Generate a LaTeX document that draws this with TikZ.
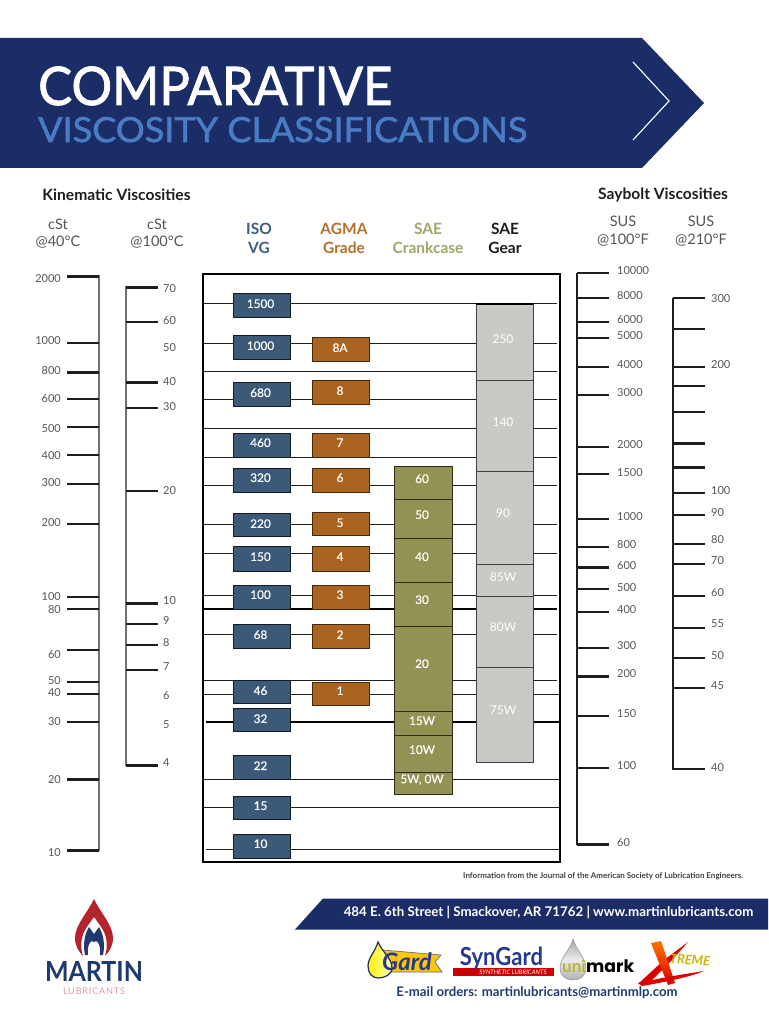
\documentclass[tikz,border=0pt]{standalone}
\usepackage{fontspec}
\setmainfont{Lato}
\newfontfamily\popfont{Poppins}
\usetikzlibrary{calc}
\definecolor{navy}{HTML}{1B2D66}
\definecolor{skyb}{HTML}{4A7CC4}
\definecolor{isoc}{HTML}{3C5A78}
\definecolor{agmac}{HTML}{AB6420}
\definecolor{crankc}{HTML}{919254}
\definecolor{gearc}{HTML}{C9CAC6}
\definecolor{inkc}{HTML}{1E1E1E}
\definecolor{labc}{HTML}{555555}
\definecolor{cranktxt}{HTML}{A3A56D}
\definecolor{agmatxt}{HTML}{B5702A}
\definecolor{isotxt}{HTML}{3F5F80}
\definecolor{brandblue}{HTML}{1F3A70}
\definecolor{logored}{HTML}{B5242C}
\definecolor{synblue}{HTML}{26398F}
\definecolor{tremec}{HTML}{C8B800}
\newcommand{\fs}[1]{\fontsize{#1}{#1}\selectfont}
\newcommand{\semib}[1][0.6]{\addfontfeature{FakeBold=#1}}
\tikzset{
  axisline/.style={draw=black!55,line width=1.2pt},
  darkaxis/.style={draw=inkc,line width=1.3pt},
  thintick/.style={draw=inkc,line width=1.3pt},
  thicktick/.style={draw=inkc,line width=3pt},
  scalelab/.style={inner sep=0pt,yshift=-0.7pt,text=labc,font=\fs{11}},
  headlab/.style={inner sep=0pt,text=labc,font=\fs{14.5}},
  coltitle/.style={inner sep=0pt,font=\bfseries\fs{15.5}},
  grouptitle/.style={inner sep=0pt,text=inkc,font=\bfseries\fs{15.6}},
  grid/.style={draw=inkc,line width=.85pt},
  gridthick/.style={draw=black,line width=2pt},
  isobox/.style={draw=black!70!isoc,fill=isoc,line width=.9pt},
  agmabox/.style={draw=black!60!agmac,fill=agmac,line width=.9pt},
  crankbox/.style={draw=black!70!crankc,fill=crankc,line width=1pt},
  gearbox/.style={draw=black!75,fill=gearc,line width=.9pt},
  celltxt/.style={inner sep=0pt,yshift=-0.7pt,text=white,font=\fs{11.8}\semib[0.35]},
  geartxt/.style={inner sep=0pt,yshift=-0.5pt,text=white,font=\fs{12}},
}
\begin{document}
\begin{tikzpicture}[x=1pt,y=-1pt]
\useasboundingbox (0,0) rectangle (768,1024);
\fill[white] (0,0) rectangle (768,1024);
% header
\fill[navy] (0,38) -- (642,38) -- (704,103) -- (642,168) -- (0,168) -- cycle;
\draw[white,line width=1.1pt] (633,62) -- (669,101) -- (633,140);
\node[anchor=base west,inner sep=0pt,text=white] (title1) at (38,105) {\resizebox{354pt}{38.5pt}{\semib[1.6]COMPARATIVE}};
\node[anchor=base west,inner sep=0pt,text=skyb] (title2) at (38,142) {\resizebox{489pt}{25pt}{\semib[1.6]VISCOSITY CLASSIFICATIONS}};
% group and column titles
\node[grouptitle] (gkin) at (116.5,195) {Kinematic Viscosities};
\node[grouptitle] (gsay) at (663,195) {Saybolt Viscosities};
\node[headlab] (h1a) at (58,224) {cSt};
\node[headlab] (h1b) at (58,242) {@40°C};
\node[headlab] (h2a) at (157,224) {cSt};
\node[headlab] (h2b) at (157,242) {@100°C};
\node[headlab] (h5a) at (623,221) {SUS};
\node[headlab] (h5b) at (623,240) {@100°F};
\node[headlab] (h6a) at (701,221) {SUS};
\node[headlab] (h6b) at (701,240) {@210°F};
\node[coltitle,text=isotxt] (c1a) at (259,229) {ISO};
\node[coltitle,text=isotxt] (c1b) at (259,248) {VG};
\node[coltitle,text=agmatxt] (c2a) at (344,229) {AGMA};
\node[coltitle,text=agmatxt] (c2b) at (344,248) {Grade};
\node[coltitle,text=cranktxt] (c3a) at (428,229) {SAE};
\node[coltitle,text=cranktxt] (c3b) at (428,248) {Crankcase};
\node[coltitle,text=inkc] (c4a) at (505,229) {SAE};
\node[coltitle,text=inkc] (c4b) at (505,248) {Gear};
% cSt 40
\draw[axisline] (99,275) -- (99,851);
\foreach \y in {343,399,427,455,484,524,597,609,650,682,694,722} \draw[thintick] (67,\y) -- (99,\y);
\foreach \y in {276,372,779,850} \draw[thicktick] (67,\y) -- (99,\y);
\foreach \y/\t [count=\i] in {278/2000,340/1000,370/800,398/600,428/500,455/400,482/300,522/200,596/100,609/80,654/60,680/50,692/40,721/30,779/20,852/10}
  \node[scalelab,anchor=east] (sa\i) at (61,\y) {\t};
% cSt 100
\draw[axisline] (126,286) -- (126,766);
\foreach \y in {322,408,491,624,645,670} \draw[thintick] (126,\y) -- (158,\y);
\foreach \y in {287,382,603,765} \draw[thicktick] (126,\y) -- (158,\y);
\foreach \y/\t [count=\i] in {288/70,320/60,347/50,381/40,406/30,490/20,600/10,620/9,642/8,666/7,695/6,724/5,762/4}
  \node[scalelab,anchor=west] (sb\i) at (163,\y) {\t};
% grid
\foreach \y in {303,343,371,399,428,457,485,524,553,595,634,680} \draw[grid] (203,\y) -- (557,\y);
\foreach \y in {694,779,807} \draw[grid] (203,\y) -- (560,\y);
\draw[grid] (206,849) -- (560,849);
\draw[gridthick] (203,609) -- (557,609);
\draw[gridthick] (206,722) -- (560,722);
% ISO
\foreach \t/\b/\l/\n [count=\i] in {293/317/303/1500,335/359/345/1000,382/406/392/680,433/457/442/460,468/492/477/320,513/536/523/220,546/571/556/150,585/609/594/100,624/648/634/68,680/703/690/46,708/731/718/32,755/779/765/22,796/819/805/15,834/858/843/10}{
  \draw[isobox] (233,\t) rectangle (290,\b);
  \node[celltxt] (iso\i) at (260.5,\l) {\n};
}
% AGMA
\foreach \t/\b/\l/\n [count=\i] in {337/361/347/8A,380/404/390/8,433/457/442/7,468/492/477/6,512/535/522/5,546/571/556/4,585/609/594/3,624/648/634/2,682/705/690/1}{
  \draw[agmabox] (312.5,\t) rectangle (369,\b);
  \node[celltxt] (agma\i) at (340,\l) {\n};
}
% Crankcase
\foreach \t/\b/\l/\n [count=\i] in {466/499/478/60,499/538/514/50,538/582/556/40,582/626/599/30,626/711/663/20,711/735/720/15W,735/772/749/10W,772/794/779/{5W, 0W}}{
  \draw[crankbox] (394,\t) rectangle (452,\b);
  \node[celltxt] (crank\i) at (422,\l) {\n};
}
% Gear
\foreach \t/\b/\l/\n [count=\i] in {304/380/339/250,380/471/422/140,471/564/513/90,564/596/577/85W,596/667/627/80W,667/762/710/75W}{
  \draw[gearbox] (476,\t) rectangle (533,\b);
  \node[geartxt] (gear\i) at (503,\l) {\n};
}
\draw[black,line width=1.8pt] (476,304) -- (533,304);
% frame
\draw[black,line width=2pt] (203,274) rectangle (560,862);
% SUS 100
\draw[darkaxis] (577,272.5) -- (577,845);
\foreach \y in {273,298,322,338,367,395,447,474,519,547,589,612,648,716,768} \draw[thintick] (577,\y) -- (609,\y);
\foreach \y in {567,676,844} \draw[thicktick] (577,\y) -- (609,\y);
\foreach \y/\t [count=\i] in {270/10000,295/8000,319/6000,335/5000,364/4000,392/3000,444/2000,472/1500,516/1000,544/800,565/600,587/500,609/400,645/300,673/200,713/150,765/100,842/60}
  \node[scalelab,anchor=west] (sc\i) at (617,\y) {\t};
% SUS 210
\draw[darkaxis] (673,297.5) -- (673,769.5);
\foreach \y in {298,329,367,386,412,493,515,544,564,596,628,658,688,769} \draw[thintick] (673,\y) -- (705,\y);
\foreach \y in {443,467} \draw[thicktick] (673,\y) -- (705,\y);
\foreach \y/\t [count=\i] in {298/300,364/200,490/100,512/90,539/80,560/70,592/60,623/55,655/50,685/45,767/40}
  \node[scalelab,anchor=west] (sd\i) at (711,\y) {\t};
% footnote
\node[anchor=west,inner sep=0pt,text=inkc!85,font=\bfseries\fs{8}] (foot) at (463,876) {Information from the Journal of the American Society of Lubrication Engineers.};
% address banner
\fill[navy] (295,929.5) -- (323,898.5) -- (768,898.5) -- (768,929.5) -- cycle;
\node[inner sep=0pt,text=white,font=\bfseries\fs{13.3}] (addr) at (548.5,912) {484 E. 6th Street | Smackover, AR 71762 | www.martinlubricants.com};
\node[inner sep=0pt,text=brandblue,font=\bfseries\fs{13.2}] (mail) at (537,993) {E-mail orders: martinlubricants@martinmlp.com};
% Martin logo
\fill[logored] (94,899) .. controls (100,912) and (113,925) .. (113,938) .. controls (113,946) and (109,952) .. (105,956)
  .. controls (108,947) and (107,937) .. (103,930) .. controls (100,925) and (97,921) .. (94,917)
  .. controls (91,921) and (88,925) .. (85,930) .. controls (81,937) and (80,947) .. (83,956)
  .. controls (79,952) and (75,946) .. (75,938) .. controls (75,925) and (88,912) .. (94,899) -- cycle;
\fill[brandblue] (94,934) -- (89,927) .. controls (84,935) and (83,946) .. (85,955) -- (88,955) .. controls (87,948) and (89,942) .. (92,941) -- (94,942) -- (96,941)
  .. controls (99,942) and (101,948) .. (100,955) -- (103,955) .. controls (105,946) and (104,935) .. (99,927) -- cycle;
\node[anchor=base,inner sep=0pt,text=brandblue] (martin) at (94,981) {\resizebox{98pt}{20pt}{\bfseries MARTIN}};
\node[inner sep=0pt,text=logored!45,font=\fs{9.2}] (lubr) at (94,991) {\addfontfeature{LetterSpace=8}LUBRICANTS};
% Gard logo
\fill[yellow!60!orange,draw=navy!70,line width=.7pt] (383,950) -- (441,955) -- (435,962) -- (442,972) -- (384,972) -- cycle;
\shade[left color=yellow!90!orange,right color=yellow!25,draw=navy,line width=1.2pt] (378,942) .. controls (382,952) and (392,958) .. (392,968) .. controls (392,975) and (384,978) .. (378,978) .. controls (372,978) and (368,973) .. (368,966) .. controls (368,958) and (375,952) .. (378,942) -- cycle;
\node[inner sep=0pt,text=synblue,font=\bfseries\itshape\fs{24}] (gard) at (407,962) {Gard};
% SynGard logo
\fill[red!80!black] (453,968) rectangle (554,976);
\node[anchor=base,inner sep=0pt,text=synblue] (syn) at (501.5,965.5) {\resizebox{83pt}{18.5pt}{\bfseries SynGard}};
\node[inner sep=0pt,text=white,font=\itshape\fs{6.2}] (syntxt) at (513,972.5) {SYNTHETIC LUBRICANTS};
% unimark logo
\shade[top color=black!35,bottom color=black!30,middle color=black!8,draw=black!40,line width=.6pt] (573,939) .. controls (576,950) and (586,958) .. (586,968) .. controls (586,976) and (580,980) .. (573,980) .. controls (566,980) and (560,976) .. (560,968) .. controls (560,958) and (570,950) .. (573,939) -- cycle;
\node[anchor=base west,inner sep=0pt,text=yellow!70!black,font=\bfseries\fs{17}] (uni) at (562,972) {uni};
\node[anchor=base west,inner sep=0pt,text=black] (mark) at (586,972.5) {\resizebox{48pt}{!}{\popfont\bfseries mark}};
% Xtreme logo
\fill[red!85!black] (638,984) -- (664,960) -- (688,942) -- (672,960) -- (648,984) -- cycle;
\shade[top color=orange!90!red,bottom color=red!85!black] (651,943) -- (661,941) -- (675,983) -- (668,985) -- cycle;
\fill[red!85!black] (638,983) .. controls (660,978) and (685,974) .. (704,971) .. controls (690,977) and (665,982) .. (642,986) -- cycle;
\node[inner sep=0pt,rotate=-4,text=tremec,font=\bfseries\itshape\fs{13}] (treme) at (690,960) {TREME};
\end{tikzpicture}
\end{document}
